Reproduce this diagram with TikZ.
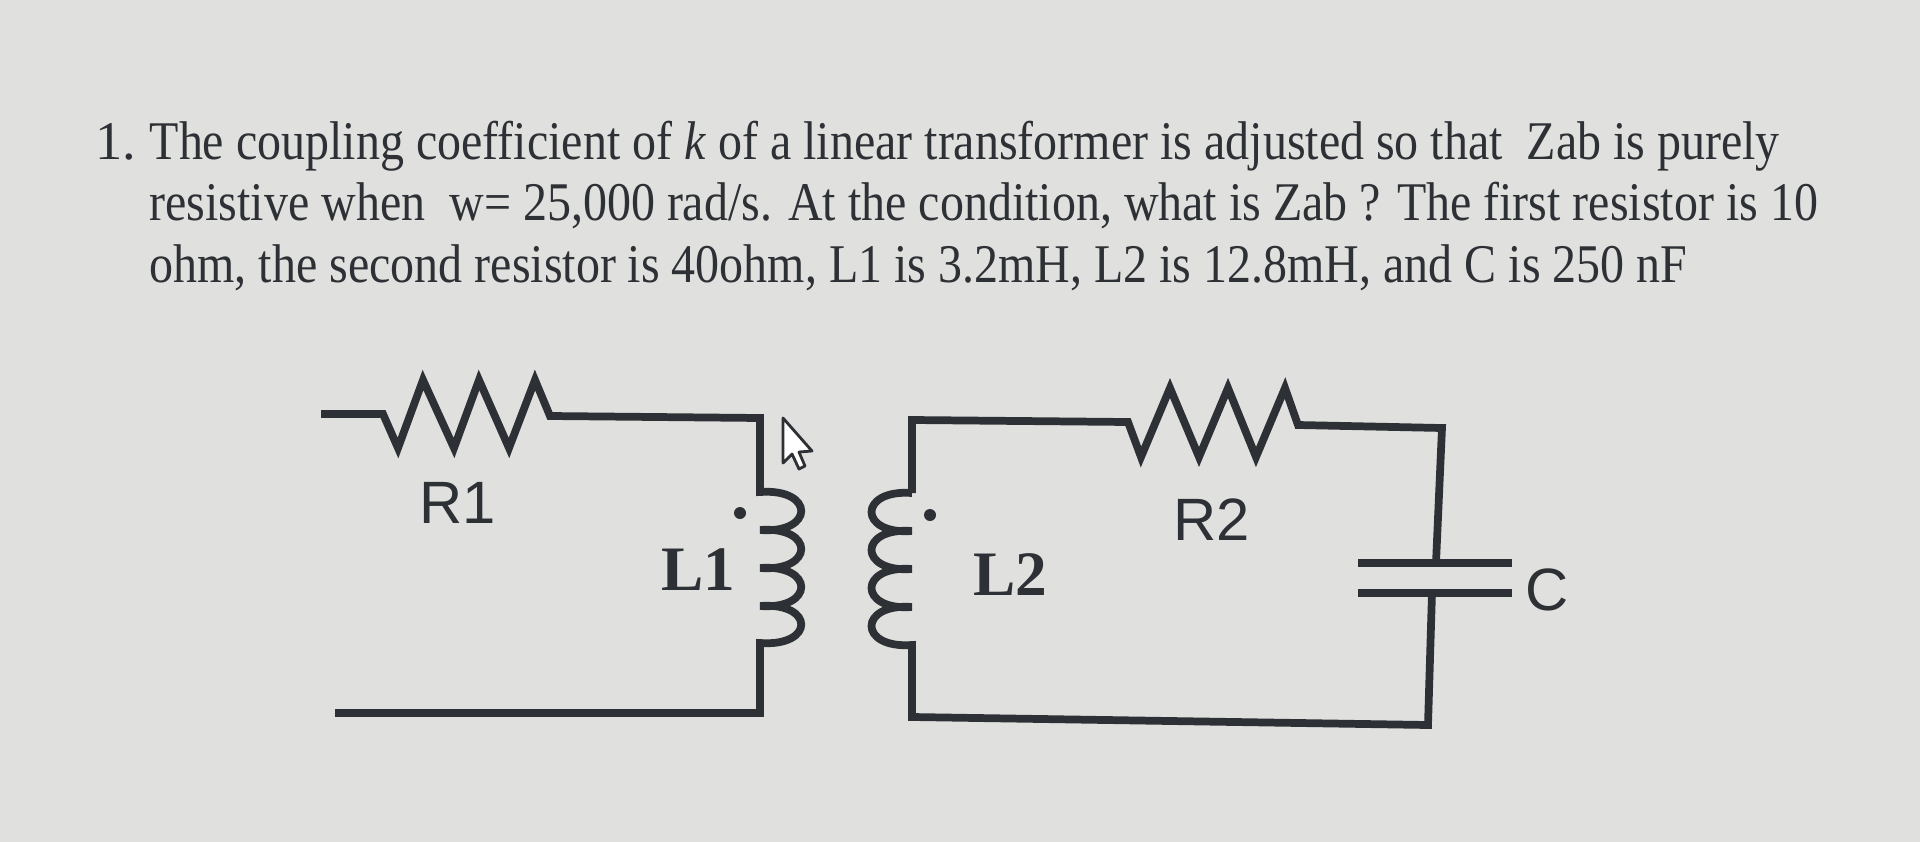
\documentclass[tikz,border=0pt]{standalone}
\usepackage{fontspec}
\setmainfont{Liberation Serif}
\newfontfamily\lsans{Liberation Sans}
\definecolor{bg}{RGB}{224,224,222}
\definecolor{ink}{RGB}{45,48,52}
\tikzset{wire/.style={draw=ink,line width=2.2pt,line join=miter},
 txt/.style={anchor=base west,inner sep=0pt,text=ink,font=\fontsize{15.5pt}{18pt}\selectfont},
 lab/.style={text=ink,inner sep=0pt}}
\begin{document}
\begin{tikzpicture}[x=0.01cm,y=-0.01cm]
\fill[bg] (0,0) rectangle (1920,842);
\useasboundingbox (0,0) rectangle (1920,842);
\node[txt] (n1) at (95,159) {1.};
\node[txt] (t1) at (149,159) {\scalebox{0.88}[1]{The coupling coefficient of \textit{k} of a linear transformer is adjusted so that\ \ Zab is purely}};
\node[txt] (t2) at (149,220) {\scalebox{0.88}[1]{resistive when\ \ w= 25,000 rad/s. At the condition, what is Zab ? The first resistor is 10}};
\node[txt] (t3) at (149,282) {\scalebox{0.88}[1]{ohm, the second resistor is 40ohm, L1 is 3.2mH, L2 is 12.8mH, and C is 250 nF}};
% R1 branch
\coordinate (a) at (321,414);
\coordinate (b) at (335,713);
\coordinate (l1t) at (760,492);
\coordinate (l1b) at (760,643);
\draw[wire] (a) -- (383,414) -- (398,448) -- (423,380) -- (454,448) -- (479,380) -- (509,448) -- (535,380) -- (550,416) -- (760,418) -- (l1t)
  .. controls (815,488) and (815,534) .. (760,530)
  .. controls (815,526) and (815,572) .. (760,568)
  .. controls (815,564) and (815,610) .. (760,606)
  .. controls (815,602) and (815,647) .. (l1b) -- (760,713) -- (b);
% L2 loop
\coordinate (l2t) at (912,493);
\coordinate (l2b) at (912,645);
\draw[wire] (l2t) -- (912,420) -- (1128,422) -- (1141,457) -- (1170,388) -- (1199,457) -- (1228,388) -- (1256,457) -- (1285,388) -- (1298,425) -- (1442,428) -- (1436,563);
\draw[wire] (1358,563) -- (1512,563);
\draw[wire] (1358,593) -- (1512,593);
\draw[wire] (1432,593) -- (1428,725) -- (912,717) -- (l2b)
  .. controls (858,649) and (858,603) .. (912,607)
  .. controls (858,611) and (858,565) .. (912,569)
  .. controls (858,573) and (858,527) .. (912,531)
  .. controls (858,535) and (858,489) .. (l2t);
\fill[ink] (740,513) circle (6);
\fill[ink] (930,515) circle (6);
\node[lab,font=\lsans\fontsize{17pt}{20pt}\selectfont] (r1) at (458,503) {R1};
\node[lab,font=\bfseries\fontsize{18pt}{20pt}\selectfont] (L1) at (698,570) {L1};
\node[lab,font=\bfseries\fontsize{18pt}{20pt}\selectfont] (L2) at (1010,575) {L2};
\node[lab,font=\lsans\fontsize{17pt}{20pt}\selectfont] (r2) at (1212,520) {R2};
\node[lab,font=\lsans\fontsize{17pt}{20pt}\selectfont] (c) at (1547,590) {C};
% cursor
\draw[ink,fill=white,line width=0.8pt,line join=round] (783,418) -- (783,463) -- (792,454) -- (799,469) -- (805,466) -- (799,452) -- (812,451) -- cycle;
\end{tikzpicture}
\end{document}
